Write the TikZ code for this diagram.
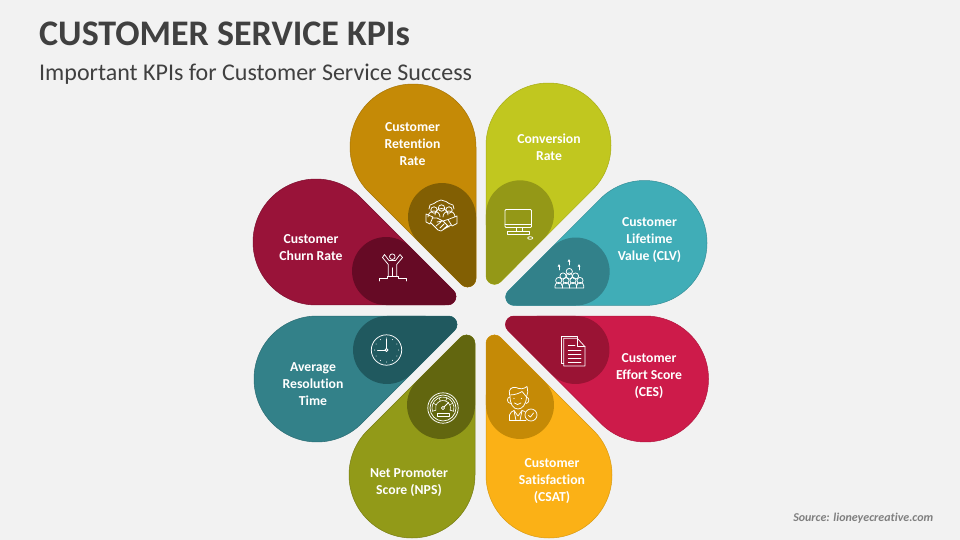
\documentclass[tikz,border=0pt]{standalone}
\usepackage{fontspec}
\usetikzlibrary{arrows.meta}
\setmainfont[Ligatures=NoCommon]{Carlito}
\definecolor{bgc}{HTML}{F2F2F2}
\definecolor{titlec}{HTML}{404040}
\definecolor{srcc}{HTML}{7F7F7F}
\tikzset{
  lbl/.style={font=\bfseries\fontsize{13.7}{17}\selectfont,text=white,align=center,inner sep=0pt},
  ico/.style={draw=white,line width=.75pt,line join=round,line cap=round},
  icof/.style={draw=white!70,line width=.75pt}
}
% cx cy r theta fill inner edge
\newcommand\petal[7]{%
\begin{scope}[shift={(#1,#2)},y=1pt,rotate=#4]
\definecolor{pf}{HTML}{#5}\definecolor{pi}{HTML}{#6}\definecolor{pe}{HTML}{#7}
\pgfmathsetmacro\dO{#3*2.613}
\pgfmathsetmacro\tipX{-\dO+22.2}
\filldraw[fill=pf,draw=pe,line width=.5pt] (-112.5:#3) arc[start angle=-112.5,end angle=112.5,radius=#3pt]
  -- ([shift={(\tipX,0)}]112.5:8.5) arc[start angle=112.5,end angle=247.5,radius=8.5pt] -- cycle;
\pgfmathsetmacro\cI{-\dO+88.8}
\fill[pi] ([shift={(\cI,0)}]-112.5:34) arc[start angle=-112.5,end angle=112.5,radius=34pt]
  -- ([shift={(\tipX,0)}]112.5:8.5) arc[start angle=112.5,end angle=247.5,radius=8.5pt] -- cycle;
\end{scope}}
\begin{document}
\begin{tikzpicture}[x=1pt,y=-1pt]
\fill[bgc] (0,0) rectangle (960,540);
\useasboundingbox (0,0) rectangle (960,540);
\node[anchor=base west,inner sep=0pt,text=titlec,font=\bfseries\fontsize{36}{36}\selectfont] (title) at (39,46) {CUSTOMER SERVICE KPIs};
\node[anchor=base west,inner sep=0pt,text=titlec,font=\fontsize{24}{24}\selectfont] (sub) at (39,81) {Important KPIs for Customer Service Success};
\node[anchor=base east,inner sep=0pt,text=srcc,font=\bfseries\itshape\fontsize{12}{12}\selectfont] (src) at (933.5,521) {Source: lioneyecreative.com};

\petal{548.5}{145.5}{62.5}{67.5}{C1C71F}{949817}{A8AD18}
\petal{644.5}{243}{62.5}{22.5}{40ADB7}{32818A}{368F98}
\petal{645.5}{379}{63}{-22.5}{CD1B4A}{9A1334}{B3173F}
\petal{549}{475}{63}{-67.5}{FBB116}{C58A06}{D99A10}
\petal{412}{475}{63}{-112.5}{929A18}{62660F}{777D12}
\petal{317}{379}{63}{-157.5}{338189}{20595F}{2A6C73}
\petal{316}{242}{63}{157.5}{991339}{660A25}{7E0F2F}
\petal{413}{147}{63}{112.5}{C58A06}{825F03}{A67404}

\node[lbl] (n1) at (412.5,144) {Customer\\Retention\\Rate};
\node[lbl] (n2) at (549,147) {Conversion\\Rate};
\node[lbl] (n3) at (649.5,240.5) {Customer\\Lifetime\\Value (CLV)};
\node[lbl] (n4) at (311,247.5) {Customer\\Churn Rate};
\node[lbl] (n5) at (313,384.5) {Average\\Resolution\\Time};
\node[lbl] (n6) at (649,376.5) {Customer\\Effort Score\\(CES)};
\node[lbl] (n7) at (552,481.5) {Customer\\Satisfaction\\(CSAT)};
\node[lbl] (n8) at (409,483) {Net Promoter\\Score (NPS)};

% retention icon
\begin{scope}[ico]
\draw (434,210) circle (3.2) (441.5,208) circle (3.2) (449,210) circle (3.2);
\draw (428,217) arc[start angle=180,end angle=0,radius=6pt] (435,215) arc[start angle=180,end angle=0,radius=6.5pt] (443,217) arc[start angle=180,end angle=0,radius=6pt];
\draw (429,209) -- (430,205) -- (434,203.5) -- (437,201.5) -- (441,200) -- (446,201.5) -- (449,203.5) -- (453,205) -- (454,209);
\draw (426,214) -- (433,217) -- (430,224) -- (426,222) -- cycle;
\draw (457,216) -- (448,219.5) -- (452,226) -- (457,223.5) -- cycle;
\draw (432,218) -- (437,218) -- (443,221) -- (448,219.5) (431,223) -- (438,230) -- (441,231) -- (451,225) (437,222) -- (443,221) -- (449,227) (436,226) -- (441,222) (440,228) -- (444,224) (443,229.5) -- (447,226);
\end{scope}
% computer icon
\begin{scope}[ico]
\draw[rounded corners=1pt] (505,209.5) rectangle (531.5,227.5);
\draw (505,224) -- (531.5,224);
\draw (516,227.5) -- (516,231) (522,227.5) -- (522,231);
\draw (507,234) rectangle (529,231.5);
\draw (530.2,238) ellipse (2.6 and 1.3);
\end{scope}
% CLV icon
\begin{scope}[ico]
\draw[-{Latex[length=2.5pt,width=3pt]}] (559,270) -- (559,264);
\draw[-{Latex[length=2.5pt,width=3pt]}] (569,265) -- (569,259);
\draw[-{Latex[length=2.5pt,width=3pt]}] (579,270) -- (579,264);
\foreach \p/\q in {569.3/271.5,563/276,569.3/276,575.5/276,558.7/280.5,566/280.5,573/280.5,580/280.5}
  \draw (\p,\q) circle (3.1);
\draw (555,288) -- (555,286) arc[start angle=180,end angle=0,radius=3.6pt] arc[start angle=180,end angle=0,radius=3.6pt] arc[start angle=180,end angle=0,radius=3.6pt] arc[start angle=180,end angle=0,radius=3.6pt] -- (583.8,288) -- cycle;
\draw (562.2,286) -- (562.2,288) (569.4,286) -- (569.4,288) (576.6,286) -- (576.6,288);
\end{scope}
% churn icon
\begin{scope}[ico]
\draw (392.3,256.7) circle (2.8);
\draw (388.3,276.5) -- (388.3,264.5) -- (382.5,257.5) -- (384.5,254.5) -- (389,260.5) -- (395.5,260.5) -- (400,254.5) -- (402.5,257.5) -- (396.7,264.5) -- (396.7,276.5);
\draw (379,281) -- (379,278.3) -- (387,278.3) -- (387,276.3) -- (398,276.3) -- (398,278.3) -- (406.7,278.3) -- (406.7,281);
\draw[white!65,line width=1.5pt] (392.5,268) -- (392.5,276);
\end{scope}
% clock icon
\begin{scope}[ico]
\draw (386.5,350) circle (15.2);
\draw (386.5,350) circle (1.5);
\draw (386.5,348.5) -- (386.5,339) (385,350) -- (377.5,350);
\foreach \a in {0,30,...,330} \fill[white] (386.5,350) ++(\a:12) circle (.5);
\end{scope}
% gauge icon
\begin{scope}[ico]
\draw (443,408) circle (15.2) (443,408) circle (13);
\end{scope}
\begin{scope}[ico,line width=.6pt,shift={(443,408)},y=1pt]
\draw (-17:11) arc[start angle=-17,end angle=197,radius=11pt];
\draw (-17:7.5) arc[start angle=-17,end angle=197,radius=7.5pt];
\foreach \a in {-17,26,69,111,154,197} \draw (\a:7.5) -- (\a:11);
\draw (0,0) circle (1.6);
\draw[line width=.9pt] (45:1.6) -- (45:8);
\draw (-5.5,-5.5) rectangle (6,-8);
\end{scope}
% document icon
\begin{scope}[ico]
\draw[icof] (577,338.3) -- (577,336) -- (561,336) -- (561,363.3) -- (563.7,363.3);
\draw (563.7,338.3) -- (577.3,338.3) -- (585,346.7) -- (585,366) -- (563.7,366) -- cycle;
\draw (577.3,338.3) -- (577.3,346.7) -- (585,346.7);
\draw (568.3,345) -- (575,345) (568.3,350) -- (581,350) (568.3,354.3) -- (581,354.3) (568.3,358.3) -- (581,358.3) (568.3,362.3) -- (581,362.3);
\end{scope}
% person icon
\begin{scope}[ico]
\draw (509.5,395) .. controls (508,389) and (512,386.5) .. (516,387.5) .. controls (520,389.5) and (524,389) .. (527,386.5) .. controls (528,391) and (528,394) .. (526.5,397);
\draw (509.5,395) .. controls (515,395) and (520,393) .. (522,391.5) .. controls (523,393) and (525,394.5) .. (526.5,397);
\draw (510,396) .. controls (510,404) and (513,409) .. (518,409) .. controls (522,409) and (526,405) .. (526.5,397);
\draw (510,397) .. controls (506.5,397) and (506.5,403) .. (510.5,403.5);
\draw (526.5,397) .. controls (530,398) and (529.5,403) .. (526,403.5);
\draw (514.5,403) .. controls (516,405) and (519,405) .. (521,403);
\fill[white] (514,398.5) circle (.7) (521.5,398.5) circle (.7);
\draw (509.5,420.5) -- (509.5,415) .. controls (510,412) and (512.5,411.5) .. (514,410.5) -- (518,416) -- (522,410.5) -- (525,411.5);
\draw (509.5,420.5) -- (526,420.5);
\draw (514,410.5) -- (516,420.5) (522,410.5) -- (520,420.5);
\draw (531,415) circle (6);
\draw (528.5,415.5) -- (530.5,417) -- (533.5,413);
\end{scope}
\end{tikzpicture}
\end{document}
